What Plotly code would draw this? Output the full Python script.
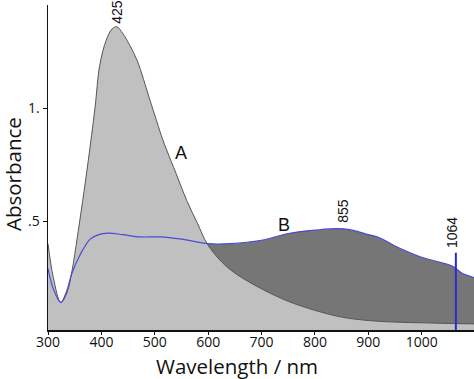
import plotly.graph_objects as go

# Spectrum A (light grey)
wl_a = [300, 310, 324, 335, 345, 355, 365, 375, 388, 397, 409, 420, 429, 440, 448,
        467, 491, 515, 523, 540, 560, 580, 598, 625, 650, 700, 750, 800, 850, 900,
        950, 1000, 1050, 1098]
abs_a = [0.40, 0.25, 0.14, 0.18, 0.28, 0.43, 0.59, 0.76, 1.00, 1.19, 1.30, 1.35, 1.36,
         1.33, 1.30, 1.21, 1.035, 0.86, 0.81, 0.71, 0.59, 0.49, 0.40, 0.32, 0.27,
         0.20, 0.145, 0.105, 0.075, 0.06, 0.053, 0.05, 0.047, 0.045]

# Spectrum B (blue line, dark grey fill)
wl_b = [300, 310, 324, 335, 345, 360, 379, 395, 412, 440, 472, 510, 550, 600, 641,
        700, 750, 800, 855, 900, 922, 950, 1000, 1058, 1075, 1098]
abs_b = [0.29, 0.20, 0.14, 0.19, 0.27, 0.35, 0.42, 0.44, 0.447, 0.44, 0.43, 0.43,
         0.42, 0.40, 0.40, 0.415, 0.445, 0.46, 0.465, 0.44, 0.425, 0.39, 0.34, 0.30,
         0.27, 0.25]

# Laser line marker
laser_wl = 1064
laser_top = 0.36

y_tickvals = [0.5, 1.0]
y_ticktext = [".5", "1."]
x_tickvals = [300, 400, 500, 600, 700, 800, 900, 1000]

peak_labels = [("425", 429, 1.425), ("855", 852, 0.544), ("1064", 1058, 0.45)]
curve_labels = [("A", 549, 0.80), ("B", 742, 0.482)]

fig = go.Figure()
fig.add_trace(go.Scatter(x=wl_b, y=abs_b, mode="lines", line=dict(width=0, shape="spline"),
                         fill="tozeroy", fillcolor="#767676", hoverinfo="skip", showlegend=False))
fig.add_trace(go.Scatter(x=wl_a, y=abs_a, mode="lines", line=dict(color="#555555", width=1, shape="spline"),
                         fill="tozeroy", fillcolor="#c0c0c0", showlegend=False, name="A"))
fig.add_trace(go.Scatter(x=wl_b, y=abs_b, mode="lines", line=dict(color="#4a4ad8", width=1.2, shape="spline"),
                         showlegend=False, name="B"))
fig.add_trace(go.Scatter(x=[laser_wl, laser_wl], y=[0, laser_top], mode="lines",
                         line=dict(color="#2a2ad0", width=2), showlegend=False, name="1064"))

for txt, x, y in peak_labels:
    fig.add_annotation(x=x, y=y, text=txt, textangle=-90, showarrow=False,
                       font=dict(family="Liberation Sans, Arial", size=14, color="#111"),
                       xanchor="center", yanchor="middle")
for txt, x, y in curve_labels:
    fig.add_annotation(x=x, y=y, text=txt, showarrow=False,
                       font=dict(family="Liberation Sans, Arial", size=18, color="#111"),
                       xanchor="center", yanchor="middle")

# Axis titles
fig.add_annotation(xref="paper", yref="paper", x=(237 - 48) / 426, y=0, yshift=-36,
                   text="Wavelength / nm", showarrow=False, xanchor="center", yanchor="middle",
                   font=dict(family="Open Sans", size=20.5, color="#111"))
fig.add_annotation(xref="paper", yref="paper", x=0, xshift=-35, y=(330 - 174) / 325,
                   text="Absorbance", textangle=-90, showarrow=False,
                   xanchor="center", yanchor="middle",
                   font=dict(family="Open Sans", size=20.5, color="#111"))

fig.update_layout(
    width=474, height=379,
    margin=dict(l=48, r=0, t=5, b=49, autoexpand=False),
    plot_bgcolor="white", paper_bgcolor="white",
    font=dict(family="Open Sans", color="#111"),
    hovermode=False,
)
fig.update_xaxes(range=[300, 1098], tickvals=x_tickvals, showline=True, linecolor="#111",
                 linewidth=1.5, ticks="outside", ticklen=3, tickcolor="#111",
                 tickfont=dict(size=14), showgrid=False, zeroline=False, automargin=False,
                 ticklabelstandoff=-4)
fig.update_yaxes(range=[0.018, 1.456], tickvals=y_tickvals, ticktext=y_ticktext,
                 showline=True, linecolor="#111", linewidth=1.5, ticks="outside",
                 ticklen=4, tickcolor="#111", tickfont=dict(size=14), showgrid=False,
                 zeroline=False, automargin=False)

fig.write_html("out.html", config={"displayModeBar": False, "staticPlot": True},
               post_script="document.body.style.margin='0';document.body.style.padding='0';")
